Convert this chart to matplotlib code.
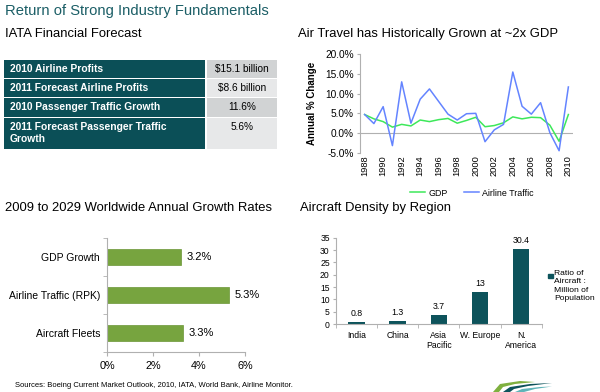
import numpy as np
import matplotlib.pyplot as plt
from matplotlib.patches import Rectangle, Polygon

plt.rcParams['font.family'] = ['Liberation Sans', 'DejaVu Sans']

# ---- data -------------------------------------------------------------------
table_labels = ["2010 Airline Profits", "2011 Forecast Airline Profits",
                "2010 Passenger Traffic Growth",
                "2011 Forecast Passenger Traffic\nGrowth"]
table_values = ["$15.1 billion", "$8.6 billion", "11.6%", "5.6%"]

years = list(range(1988, 2011))
gdp = [4.7, 3.6, 2.9, 1.5, 2.2, 1.8, 3.3, 2.9, 3.4, 3.7, 2.5, 3.2,
       4.0, 1.6, 1.9, 2.6, 4.1, 3.6, 4.0, 3.9, 2.0, -2.1, 4.7]
traffic = [4.7, 2.4, 6.7, -3.2, 13.0, 2.5, 8.6, 11.2, 8.0, 4.8, 3.3, 4.9,
           5.0, -2.2, 0.8, 2.2, 15.5, 6.8, 4.8, 7.7, 0.1, -4.5, 11.7]

growth_cats = ["GDP Growth", "Airline Traffic (RPK)", "Aircraft Fleets"]
growth_vals = [3.2, 5.3, 3.3]

regions = ["India", "China", "Asia\nPacific", "W. Europe", "N.\nAmerica"]
density = [0.8, 1.3, 3.7, 13, 30.4]
density_labels = ["0.8", "1.3", "3.7", "13", "30.4"]

TEAL = '#1b5e66'
DARK = '#0b4f57'
GREEN_BAR = '#77a43f'
AXC = '#b0b0b0'

W, H = 600, 392
def px(x0, y0, x1, y1):
    return [x0 / W, 1 - y1 / H, (x1 - x0) / W, (y1 - y0) / H]

fig = plt.figure(figsize=(6, 3.92), dpi=100)

fig.text(5 / W, 1 - 11 / H, "Return of Strong Industry Fundamentals",
         fontsize=10.6, color=TEAL, va='center')
fig.text(5 / W, 1 - 34 / H, "IATA Financial Forecast", fontsize=9.4, va='center')
fig.text(298 / W, 1 - 34 / H, "Air Travel has Historically Grown at ~2x GDP",
         fontsize=9.4, va='center')
fig.text(5 / W, 1 - 208 / H, "2009 to 2029 Worldwide Annual Growth Rates",
         fontsize=9.4, va='center')
fig.text(300 / W, 1 - 208 / H, "Aircraft Density by Region", fontsize=9.4, va='center')

# ---- table ------------------------------------------------------------------
ax_t = fig.add_axes(px(4, 60, 277, 148.5))
ax_t.set_xlim(0, 273)
ax_t.set_ylim(88.5, 0)
ax_t.axis('off')
row_top = [0, 19, 38.3, 57.7]
row_h = [18, 18.3, 18.4, 30.8]
right_fill = ['#d1d3d4', '#e7e8e9', '#d1d3d4', '#e7e8e9']
for i in range(4):
    ax_t.add_patch(Rectangle((0, row_top[i]), 201, row_h[i], color=DARK, lw=0))
    ax_t.add_patch(Rectangle((203, row_top[i]), 70, row_h[i], color=right_fill[i], lw=0))
    ax_t.text(6, row_top[i] + row_h[i] / 2, table_labels[i], color='white',
              fontsize=7.4, fontweight='bold', va='center', linespacing=1.2)
    vy = row_top[i] + row_h[i] / 2 if i < 3 else row_top[i] + 9
    ax_t.text(238, vy, table_values[i], fontsize=7.3, ha='center', va='center')

# ---- line chart -------------------------------------------------------------
ax_l = fig.add_axes(px(360, 54.3, 573, 152.7))
ax_l.plot(years, gdp, color='#3de85a', lw=1.1, label='GDP')
ax_l.plot(years, traffic, color='#6484ff', lw=1.1, label='Airline Traffic')
ax_l.axhline(0, color=AXC, lw=0.8, zorder=0)
ax_l.set_xlim(1987.5, 2010.5)
ax_l.set_ylim(-5, 20)
ax_l.set_yticks(np.arange(-5, 21, 5))
ax_l.set_yticklabels([f"{v:.1f}%" for v in np.arange(-5, 21, 5)], fontsize=7.3)
ax_l.set_xticks(years[::2])
ax_l.set_xticklabels([str(y) for y in years[::2]], rotation=90, fontsize=6.7)
ax_l.tick_params(axis='x', length=0, pad=2)
ax_l.tick_params(axis='y', length=2.5, color=AXC, pad=2)
for s in ['top', 'right', 'bottom']:
    ax_l.spines[s].set_visible(False)
ax_l.spines['left'].set_color(AXC)
ax_l.spines['left'].set_linewidth(0.8)
fig.text(312 / W, 1 - 103.5 / H, "Annual % Change", rotation=90, fontsize=7,
         fontweight='bold', ha='center', va='center')
fig.legend(*ax_l.get_legend_handles_labels(), loc='center',
           bbox_to_anchor=(472 / W, 1 - 193 / H), ncol=2, frameon=False,
           fontsize=6.4, handlelength=1.7, columnspacing=1.8, handletextpad=0.4)

# ---- growth bar chart -------------------------------------------------------
ax_g = fig.add_axes(px(107, 238, 245, 351.7))
ypos = np.arange(len(growth_cats))
ax_g.barh(ypos, growth_vals, height=0.41, color=GREEN_BAR, edgecolor='#6a9636', lw=0.5)
for y, v in zip(ypos, growth_vals):
    ax_g.annotate(f"{v}%", (v, y), xytext=(4, 0), textcoords='offset points',
                  va='center', fontsize=8)
ax_g.set_ylim(2.5, -0.5)
ax_g.set_xlim(0, 6)
ax_g.set_yticks(ypos)
ax_g.set_yticklabels(growth_cats, fontsize=7.5)
ax_g.set_yticks([-0.5, 0.5, 1.5, 2.5], minor=True)
ax_g.set_xticks([0, 2, 4, 6])
ax_g.set_xticklabels([f"{v}%" for v in [0, 2, 4, 6]], fontsize=7.8)
ax_g.tick_params(axis='y', which='major', length=0, pad=5)
ax_g.tick_params(axis='y', which='minor', length=3, color=AXC)
ax_g.tick_params(axis='x', length=3, color=AXC, pad=4)
for s in ['top', 'right']:
    ax_g.spines[s].set_visible(False)
for s in ['left', 'bottom']:
    ax_g.spines[s].set_color(AXC)
    ax_g.spines[s].set_linewidth(0.8)

fig.text(15 / W, 1 - 385.5 / H,
         "Sources: Boeing Current Market Outlook, 2010, IATA, World Bank, Airline Monitor.",
         fontsize=5.5, va='center')

# ---- density bar chart ------------------------------------------------------
ax_d = fig.add_axes(px(336, 237.7, 541.7, 324))
xpos = np.arange(len(regions))
ax_d.bar(xpos, density, width=0.4, color='#0d535b')
for x, v, lab in zip(xpos, density, density_labels):
    ax_d.annotate(lab, (x, v), xytext=(0, 3), textcoords='offset points',
                  ha='center', va='bottom', fontsize=6.3)
ax_d.set_xlim(-0.5, 4.5)
ax_d.set_ylim(0, 35)
ax_d.set_yticks(np.arange(0, 36, 5))
ax_d.set_yticklabels([str(v) for v in range(0, 36, 5)], fontsize=6.2)
ax_d.set_xticks(xpos)
ax_d.set_xticklabels(regions, fontsize=6.2, linespacing=1.2)
ax_d.set_xticks(np.arange(-0.5, 5, 1), minor=True)
ax_d.tick_params(axis='x', which='major', length=0, pad=5)
ax_d.tick_params(axis='x', which='minor', length=3, color=AXC)
ax_d.tick_params(axis='y', length=2.5, color=AXC, pad=2)
for s in ['top', 'right']:
    ax_d.spines[s].set_visible(False)
for s in ['left', 'bottom']:
    ax_d.spines[s].set_color(AXC)
    ax_d.spines[s].set_linewidth(0.8)

fig.patches.append(Rectangle((548 / W, 1 - 278 / H), 4.5 / W, 4.5 / H,
                             transform=fig.transFigure, color='#0d535b'))
fig.text(554 / W, 1 - 270 / H, "Ratio of\nAircraft :\nMillion of\nPopulation",
         fontsize=6.1, va='top', linespacing=1.25)

# ---- logo swooshes ----------------------------------------------------------
def swoosh(pts, color):
    fig.patches.append(Polygon([(x / W, 1 - y / H) for x, y in pts],
                               closed=True, transform=fig.transFigure,
                               color=color, lw=0))

swoosh([(493, 392), (500, 384), (520, 381), (535, 382), (515, 384), (503, 387), (499, 392)], '#7fb03f')
swoosh([(503, 392), (510, 387), (530, 384), (552, 383), (528, 386), (514, 389), (510, 392)], '#0d535b')
swoosh([(515, 392), (522, 389), (540, 387), (552, 386.5), (535, 389), (524, 392)], '#5fb4b8')

fig.savefig('out.png', dpi=100)
